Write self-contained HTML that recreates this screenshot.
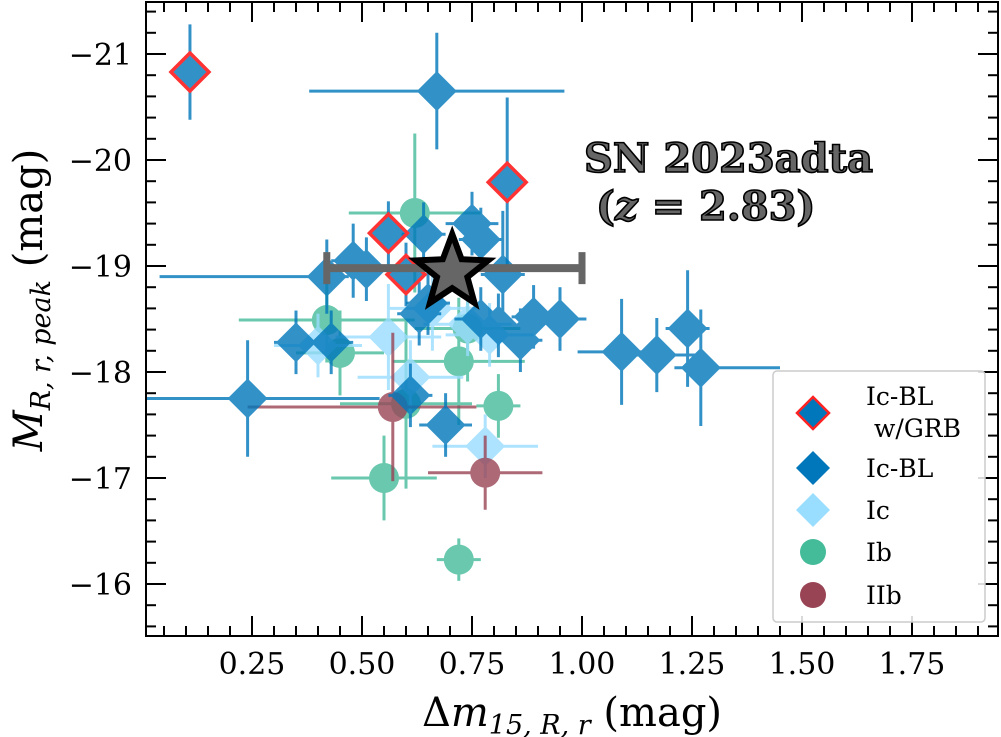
<!DOCTYPE html>
<html><head><meta charset="utf-8"><style>
html,body{margin:0;padding:0;background:#fff;}
svg{display:block;font-family:"DejaVu Serif","Liberation Serif",serif;}
</style></head><body>
<svg id="chart" width="1001" height="737" viewBox="0 0 1001 737"></svg>
<script>
// Ic-BL w/GRB
const grbX=[0.109,0.83,0.56,0.60];
const grbY=[-20.83,-19.79,-19.31,-18.92];
const grbXe=[0.01,0.02,0.03,0.03];
const grbYe=[0.45,0.8,0.3,0.3];
// Ic-BL
const iblX=[0.67,0.42,0.48,0.51,0.64,0.75,0.77,0.82,0.63,0.65,0.77,0.81,0.86,0.89,0.95,0.35,0.43,0.24,0.61,0.69,1.09,1.17,1.24,1.27];
const iblY=[-20.65,-18.9,-19.05,-18.97,-19.3,-19.4,-19.25,-18.92,-18.55,-18.65,-18.5,-18.44,-18.3,-18.52,-18.5,-18.28,-18.28,-17.75,-17.78,-17.5,-18.19,-18.16,-18.41,-18.04];
const iblXeL=[0.29,0.38,0.05,0.05,0.05,0.06,0.05,0.05,0.05,0.05,0.06,0.06,0.05,0.05,0.06,0.05,0.05,0.25,0.05,0.06,0.1,0.1,0.05,0.06];
const iblXeH=[0.29,0.05,0.05,0.05,0.05,0.06,0.05,0.05,0.05,0.05,0.06,0.06,0.05,0.05,0.06,0.05,0.05,0.30,0.05,0.06,0.05,0.1,0.05,0.18];
const iblYe=[0.55,0.35,0.35,0.3,0.3,0.3,0.3,0.6,0.3,0.3,0.3,0.3,0.3,0.3,0.3,0.3,0.3,0.55,0.3,0.3,0.5,0.35,0.55,0.55];
// Ic
const icX=[0.40,0.56,0.61,0.78,0.79,0.74,0.66];
const icY=[-18.25,-18.33,-17.95,-17.3,-18.35,-18.45,-18.6];
const icXe=[0.1,0.12,0.12,0.12,0.1,0.1,0.1];
const icYe=[0.3,0.5,0.35,0.3,0.3,0.3,0.4];
// Ib
const ibX=[0.62,0.42,0.45,0.72,0.74,0.81,0.55,0.72,0.60];
const ibY=[-19.5,-18.49,-18.18,-18.1,-18.41,-17.68,-17.0,-16.23,-17.7];
const ibXe=[0.15,0.2,0.1,0.15,0.12,0.05,0.12,0.05,0.15];
const ibYe=[0.75,0.4,0.4,0.6,0.5,0.3,0.4,0.2,0.8];
// IIb
const iibX=[0.57,0.78];
const iibY=[-17.67,-17.05];
const iibXeL=[0.33,0.13];
const iibXeH=[0.19,0.13];
const iibYe=[0.7,0.35];
// SN 2023adta
const starX=[0.705];const starY=[-18.98];const starXeL=[0.285];const starXeH=[0.295];
const xTicks=[0.25,0.50,0.75,1.00,1.25,1.50,1.75];
const xTickLabels=["0.25","0.50","0.75","1.00","1.25","1.50","1.75"];
const yTicks=[-21,-20,-19,-18,-17,-16];
const yTickLabels=["−21","−20","−19","−18","−17","−16"];

const L=146,R=998,T=2,B=636;
const sx=v=>142+v*440;
const sy=v=>372+(v+18)*106;
const NS="http://www.w3.org/2000/svg";
const svg=document.getElementById('chart');
function mk(tag,attrs,parent){const e=document.createElementNS(NS,tag);for(const k in attrs)e.setAttribute(k,attrs[k]);(parent||svg).appendChild(e);return e;}
const clip=mk('clipPath',{id:'pc'});mk('rect',{x:L,y:T,width:R-L,height:B-T},clip);
const plot=mk('g',{'clip-path':'url(#pc)'});



function errbar(g,x,y,xl,xh,ye,col){
  mk('line',{x1:sx(x-xl),x2:sx(x+xh),y1:sy(y),y2:sy(y),stroke:col,'stroke-width':3},g);
  mk('line',{x1:sx(x),x2:sx(x),y1:sy(y-ye),y2:sy(y+ye),stroke:col,'stroke-width':3},g);
}
function diamond(g,x,y,r,fill,stroke){
  const cx=sx(x),cy=sy(y);
  const a={points:`${cx},${cy-r} ${cx+r},${cy} ${cx},${cy+r} ${cx-r},${cy}`,fill:fill};
  if(stroke){a.stroke=stroke;a['stroke-width']=3.5;}
  return mk('polygon',a,g);
}
function series(name,X,Y,XL,XH,YE,col,fill,shape){
  const g=mk('g',{opacity:0.8},plot);
  
  
  for(let i=0;i<X.length;i++){
    const p=mk('g',{},g);
    
    
    errbar(p,X[i],Y[i],XL[i],XH[i],YE[i],col);
    if(shape==='d')diamond(p,X[i],Y[i],20,fill);
    else mk('circle',{cx:sx(X[i]),cy:sy(Y[i]),r:15,fill:fill},p);
  }
}
series('ib-series',ibX,ibY,ibXe,ibXe,ibYe,'#44bb99','#44bb99','c');
series('ic-series',icX,icY,icXe,icXe,icYe,'#99ddff','#99ddff','d');
series('iib-series',iibX,iibY,iibXeL,iibXeH,iibYe,'#994455','#994455','c');
series('ic-bl-series',iblX,iblY,iblXeL,iblXeH,iblYe,'#0077bb','#0077bb','d');
const gg=mk('g',{},plot);


for(let i=0;i<grbX.length;i++){
  const p=mk('g',{},gg);
  
  
  const e=mk('g',{opacity:0.8},p);errbar(e,grbX[i],grbY[i],grbXe[i],grbXe[i],grbYe[i],'#0077bb');
  diamond(e,grbX[i],grbY[i],19,'#0077bb');
  diamond(p,grbX[i],grbY[i],19,'none','#ff3333');
}
const sg=mk('g',{},plot);


const sy0=sy(starY[0]);
mk('line',{x1:sx(starX[0]-starXeL[0]),x2:sx(starX[0]+starXeH[0]),y1:sy0,y2:sy0,stroke:'#666','stroke-width':8},sg);
[starX[0]-starXeL[0],starX[0]+starXeH[0]].forEach(v=>mk('line',{x1:sx(v),x2:sx(v),y1:sy0-16,y2:sy0+16,stroke:'#666','stroke-width':7},sg));
(function(){const cx=sx(starX[0]),cy=sy0+4,Ro=38,Ri=16;let pts=[];for(let k=0;k<10;k++){const r=k%2?Ri:Ro;const a=-Math.PI/2+k*Math.PI/5;pts.push((cx+r*Math.cos(a)).toFixed(1)+','+(cy+r*Math.sin(a)).toFixed(1));}
mk('polygon',{points:pts.join(' '),fill:'#666',stroke:'#000','stroke-width':6},sg);})();

const ann=mk('g',{});


const t1=mk('text',{x:584,y:172,'font-size':40,'font-weight':'bold',fill:'#666',stroke:'#000','stroke-width':1.6},ann);t1.textContent='SN 2023adta';
const t2=mk('text',{x:596,y:220,'font-size':40,'font-weight':'bold',fill:'#666',stroke:'#000','stroke-width':1.6},ann);t2.innerHTML='(<tspan font-style="italic">z</tspan> = 2.83)';

const fr=mk('rect',{x:L,y:T,width:R-L,height:B-T,fill:'none',stroke:'#000','stroke-width':2});


const tk=mk('g',{stroke:'#000','stroke-width':2});


for(let v=0.05;v<1.95;v+=0.05){const X=sx(v);if(X<L||X>R)continue;const maj=Math.abs(v*4-Math.round(v*4))<1e-6;const len=maj?20:10;
  mk('line',{x1:X,x2:X,y1:B,y2:B-len},tk);mk('line',{x1:X,x2:X,y1:T,y2:T+len},tk);}
for(let v=-21.4;v<=-15.5;v+=0.2){const Y=sy(v);if(Y<T||Y>B)continue;const maj=Math.abs(v-Math.round(v))<1e-6;const len=maj?20:10;
  mk('line',{x1:L,x2:L+len,y1:Y,y2:Y},tk);mk('line',{x1:R,x2:R-len,y1:Y,y2:Y},tk);}
const xl=mk('g',{'font-size':30,'text-anchor':'middle'});


xTicks.forEach((v,i)=>{const t=mk('text',{x:sx(v),y:674},xl);t.textContent=xTickLabels[i];});
const yl=mk('g',{'font-size':30,'text-anchor':'end'});


yTicks.forEach((v,i)=>{const t=mk('text',{x:132,y:sy(v)+11},yl);t.textContent=yTickLabels[i];});
const xt=mk('text',{x:572,y:726,'font-size':40,'text-anchor':'middle'});


xt.innerHTML='Δ<tspan font-style="italic">m</tspan><tspan font-size="27" dy="8"><tspan font-style="italic">15, R, r</tspan></tspan><tspan dy="-8"> (mag)</tspan>';
const yt=mk('text',{x:0,y:0,'font-size':40,'text-anchor':'middle',transform:'translate(42,300) rotate(-90)'});


yt.innerHTML='<tspan font-style="italic">M</tspan><tspan font-size="27" dy="8" font-style="italic">R, r, peak</tspan><tspan dy="-8"> (mag)</tspan>';

const lg=mk('g',{});


mk('rect',{x:773,y:371,width:212,height:251,rx:4,fill:'#fff','fill-opacity':0.85,stroke:'#ccc','stroke-width':1.5},lg);
const ents=[['Ic-BL w/GRB',413],['Ic-BL',468],['Ic',510],['Ib',552],['IIb',595]];
ents.forEach(([n,y],i)=>{const e=mk('g',{},lg);
  
  
  const cx=813;
  if(i===0){mk('polygon',{points:`${cx},${y-16} ${cx+16},${y} ${cx},${y+16} ${cx-16},${y}`,fill:'#0077bb',stroke:'#ff2222','stroke-width':2.5},e);}
  else if(i<3){mk('polygon',{points:`${cx},${y-17} ${cx+17},${y} ${cx},${y+17} ${cx-17},${y}`,fill:i===1?'#0077bb':'#99ddff'},e);}
  else mk('circle',{cx:cx,cy:y,r:13,fill:i===3?'#44bb99':'#994455'},e);
  if(i===0){const a=mk('text',{x:866,y:405,'font-size':25},e);a.textContent='Ic-BL';const b=mk('text',{x:874,y:437,'font-size':25},e);b.textContent='w/GRB';}
  else{const a=mk('text',{x:866,y:y+9,'font-size':25},e);a.textContent=n;}
});
</script>
</body></html>
